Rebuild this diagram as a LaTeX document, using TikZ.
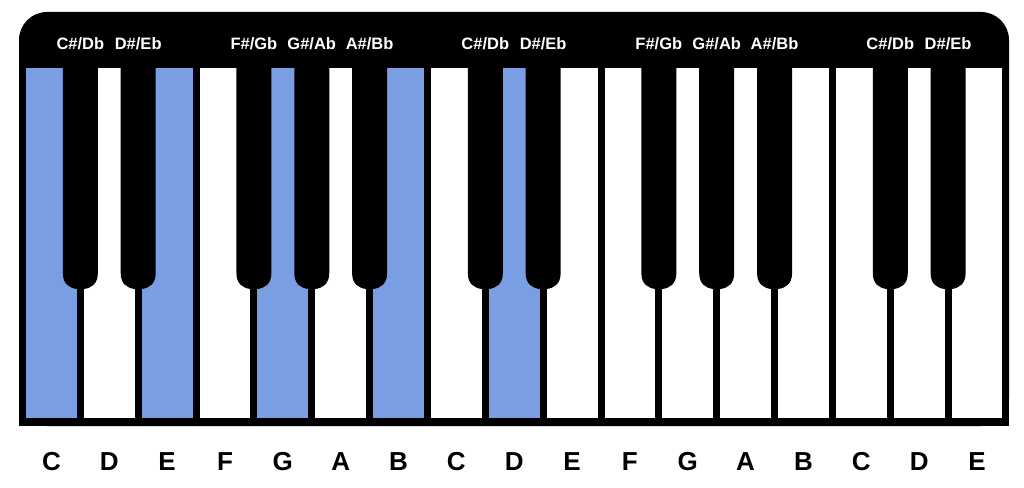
\documentclass[tikz,border=0pt]{standalone}
\usepackage{fontspec}
\setmainfont{Liberation Sans}
\usetikzlibrary{positioning}
\definecolor{keyblue}{RGB}{122,158,228}

\begin{document}
\begin{tikzpicture}[x=1pt, y=-1pt,
        keylabel/.style={text=white, font=\fontsize{16.5}{18}\selectfont\bfseries},
        notename/.style={font=\fontsize{26}{28}\selectfont\bfseries}]
            \useasboundingbox (0,0) rectangle (1024,487);
            \fill[black, rounded corners=28] (19,12) rectangle (1009,426);
            \fill[black] (19,100) rectangle (1009,426);
            \foreach \n/\c [count=\i from 0, evaluate=\i as \xl using 22.5+\i*57.85] in {C/keyblue, D/white, E/keyblue, F/white, G/keyblue, A/white, B/keyblue, C/white, D/keyblue, E/white, F/white, G/white, A/white, B/white, C/white, D/white, E/white} {
                \fill[\c] (\xl+3.5,68) rectangle (\xl+57.85-3.5,418);
                \node[notename] (n\i) at (\xl+28.9,462) {\n};
            }
            \foreach \k/\up/\dn [evaluate=\k as \kx using 22.5+\k*57.85] in {1/C/D, 2/D/E, 4/F/G, 5/G/A, 6/A/B, 8/C/D, 9/D/E, 11/F/G, 12/G/A, 13/A/B, 15/C/D, 16/D/E} {
                \fill[black] (\kx-17.5,60) -- (\kx-17.5,273) .. controls (\kx-17.5,284) and (\kx-11,288) .. (\kx-3.5,289)
                    -- (\kx+3.5,289) .. controls (\kx+11,288) and (\kx+17.5,284) .. (\kx+17.5,273) -- (\kx+17.5,60) -- cycle;
                \node[keylabel] (s\k) at (\kx,44) {\up\#/\dn b};
            }
        \end{tikzpicture}
\end{document}
